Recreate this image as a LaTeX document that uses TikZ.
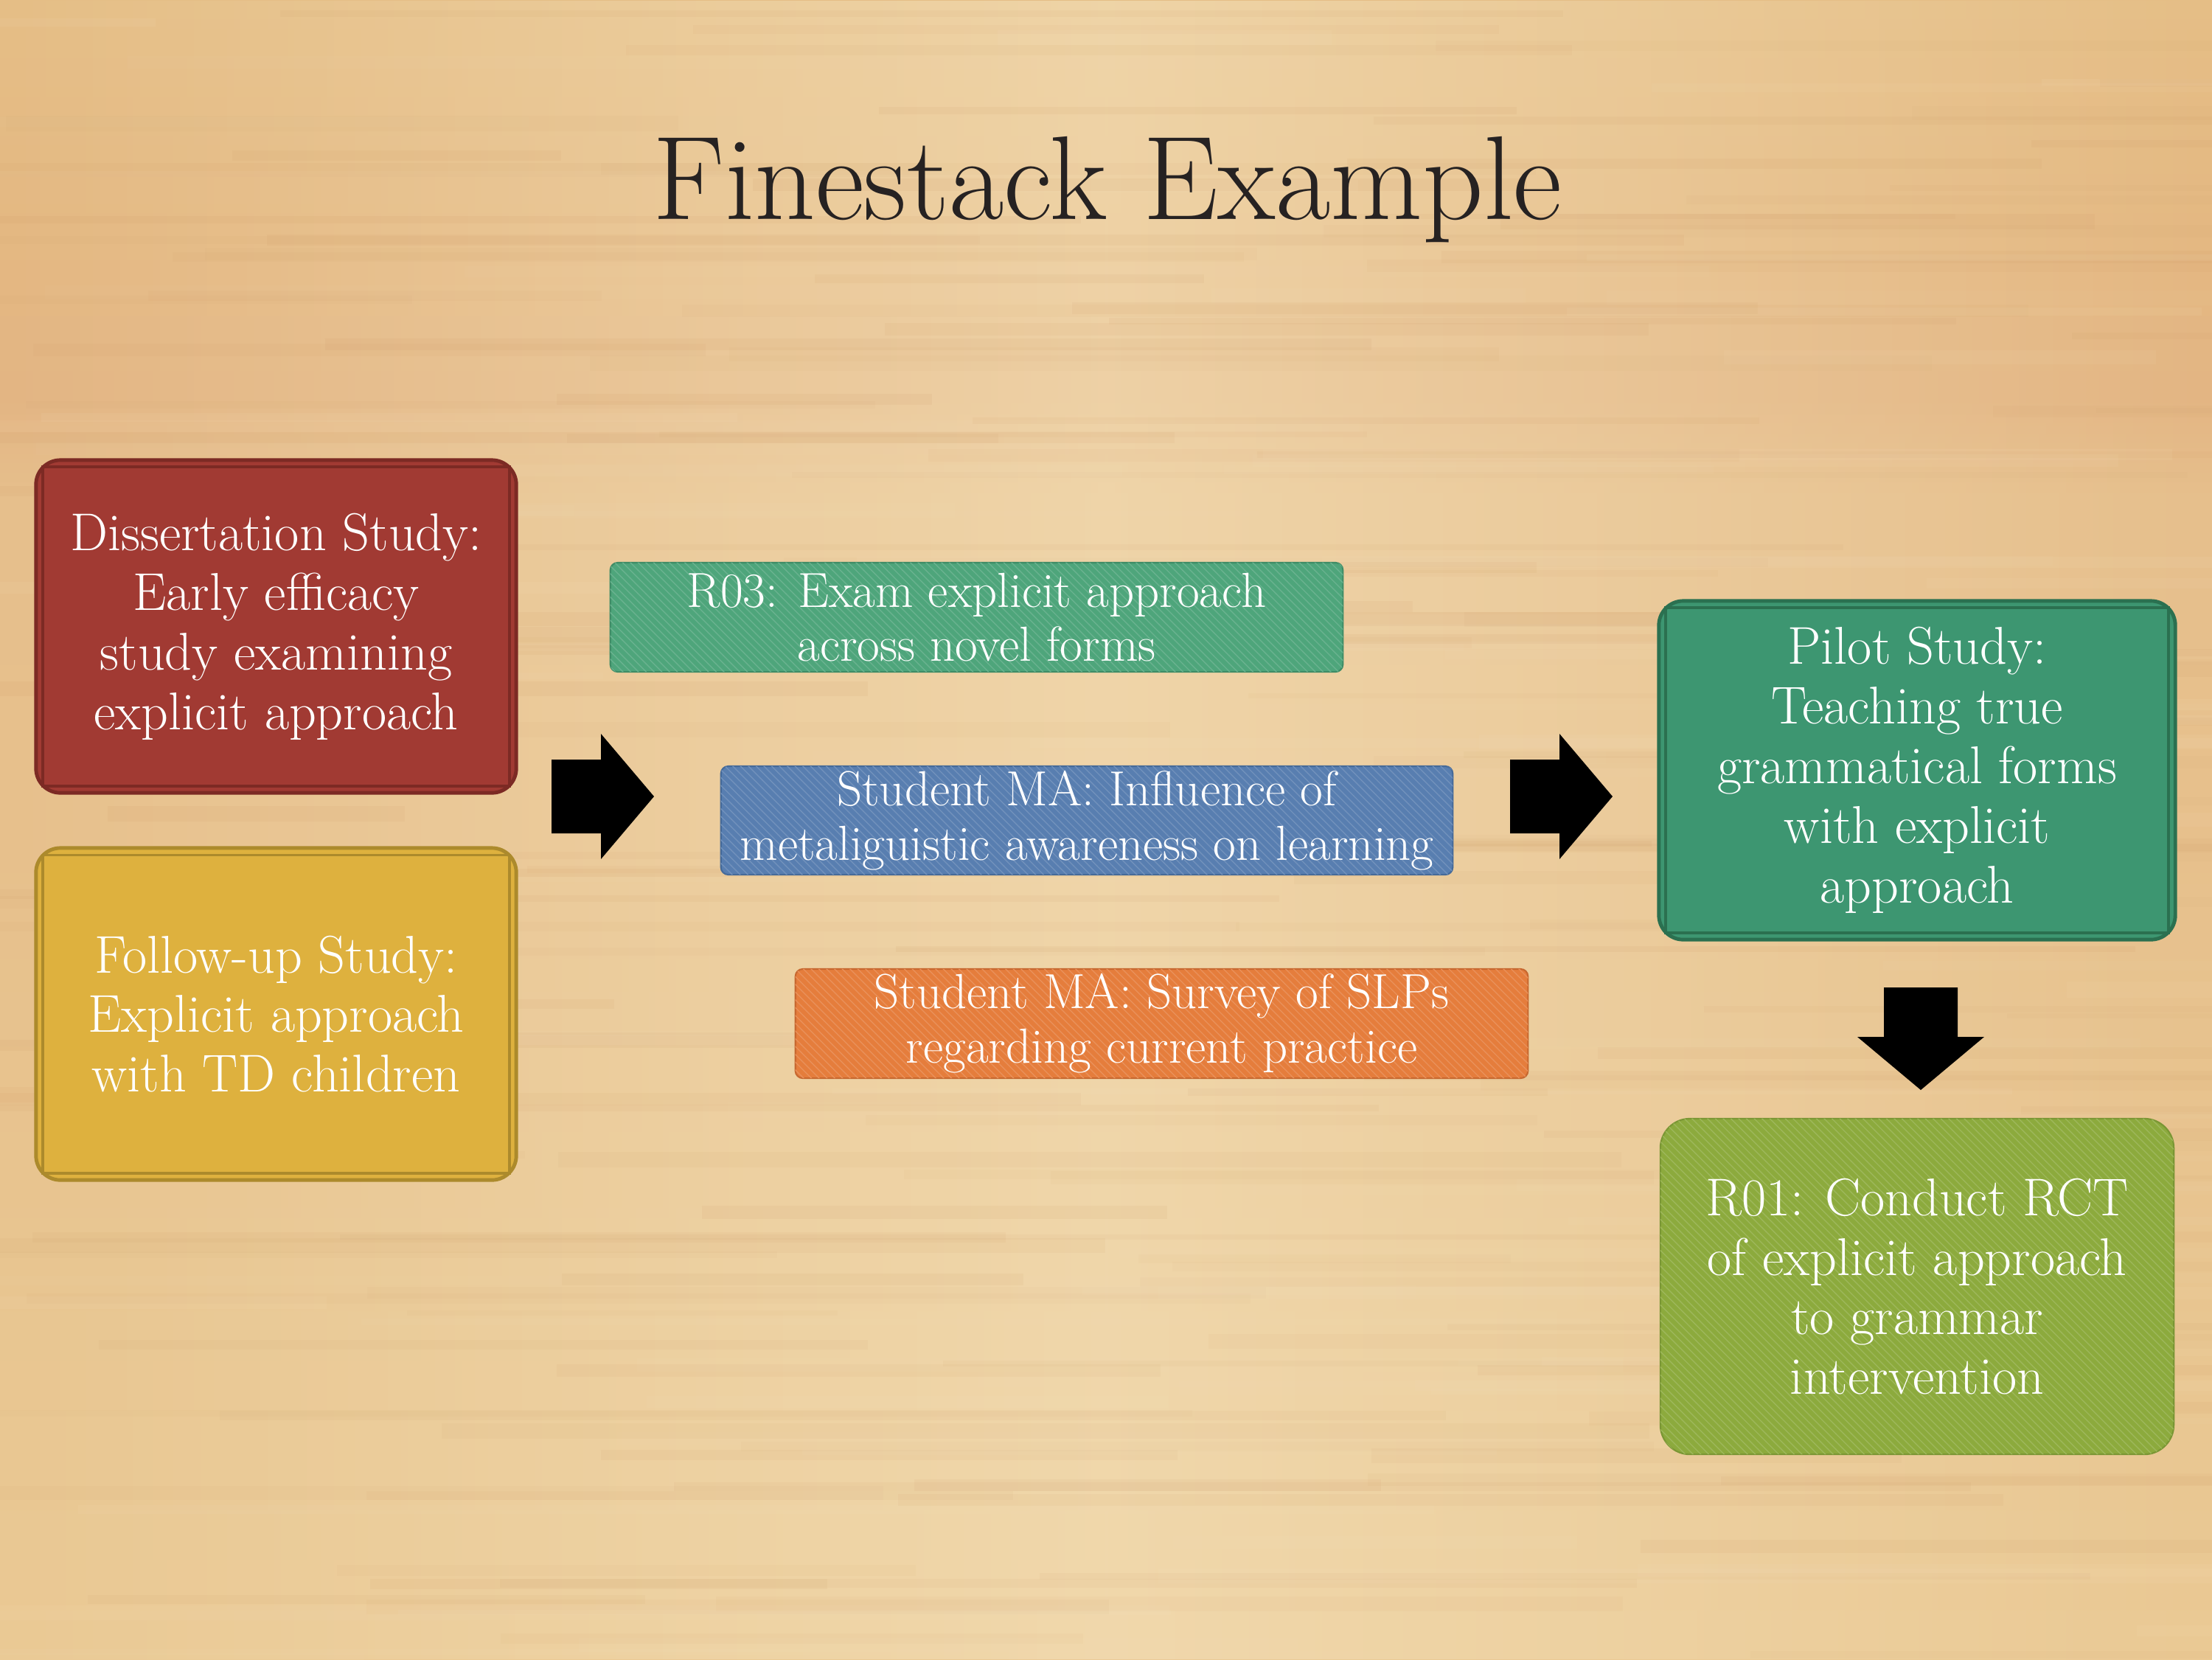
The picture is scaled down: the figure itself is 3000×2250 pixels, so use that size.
\documentclass[tikz,border=0pt]{standalone}
\usepackage{fontspec}
\usetikzlibrary{patterns,fadings}
\definecolor{bgT}{HTML}{E5BE86}
\definecolor{bgB}{HTML}{E4B882}
\definecolor{bgC}{HTML}{E3B583}
\definecolor{bgD}{HTML}{E6BF8C}
\definecolor{bgE}{HTML}{E7C08C}
\definecolor{bgF}{HTML}{E8C590}
\definecolor{bgG}{HTML}{EAC994}
\definecolor{bgGlow}{HTML}{F4E0B8}
\definecolor{grainDark}{HTML}{C48A55}
\definecolor{grainLight}{HTML}{F6E2C0}
\definecolor{titleC}{HTML}{262222}
\definecolor{redF}{HTML}{A13A33}
\definecolor{redD}{HTML}{7C2A24}
\definecolor{yelF}{HTML}{DEB13E}
\definecolor{yelD}{HTML}{AC8A2C}
\definecolor{pilF}{HTML}{3D9671}
\definecolor{pilD}{HTML}{2B7050}
\definecolor{r03F}{HTML}{4EA57B}
\definecolor{r03D}{HTML}{3F8C66}
\definecolor{bluF}{HTML}{587EB0}
\definecolor{bluD}{HTML}{456A99}
\definecolor{orgF}{HTML}{E57D3C}
\definecolor{orgD}{HTML}{C76830}
\definecolor{r01F}{HTML}{8CAA3D}
\definecolor{r01D}{HTML}{7A9634}
\pgfdeclareverticalshading{woodbg}{100bp}{color(0bp)=(bgG); color(25bp)=(bgG); color(37bp)=(bgF); color(50bp)=(bgE); color(60bp)=(bgD); color(63bp)=(bgC); color(68bp)=(bgB); color(75bp)=(bgT); color(100bp)=(bgT)}
\tikzfading[name=midglow, left color=transparent!100, right color=transparent!100, middle color=transparent!35]
\tikzset{
  boxtext/.style={text=white, align=center, font=\fontsize{20.5}{23}\selectfont},
  framebox/.style={rounded corners=0.33cm, line width=1.4pt, inner sep=0pt, boxtext},
  innerframe/.style={line width=1.1pt},
  barbox/.style={rounded corners=0.1cm, line width=0.6pt, inner sep=0pt, text=white, align=center, font=\fontsize{19}{21}\selectfont},
  hatch/.style={postaction={pattern=north west lines, pattern color=#1}},
  blockarrow/.style={fill=black},
}
\begin{document}
\begin{tikzpicture}[x=0.01cm, y=-0.01cm]
\useasboundingbox (0,0) rectangle (3000,2250);
\shade[shading=woodbg] (0,0) rectangle (3000,2250);
\fill[bgGlow, path fading=midglow, fit fading=true] (0,0) rectangle (3000,2250);
\pgfmathsetseed{42}
\foreach \k in {1,...,160}{
  \pgfmathsetmacro\yy{rnd*2250}
  \pgfmathsetmacro\xx{rnd*3200-300}
  \pgfmathsetmacro\ll{400+rnd*1600}
  \pgfmathsetmacro\oo{0.03+0.05*rnd}
  \pgfmathsetmacro\ww{2+4*rnd}
  \draw[line width=\ww pt, draw=grainDark, opacity=\oo] (\xx,\yy) -- ++(\ll,0);
}
\foreach \k in {1,...,90}{
  \pgfmathsetmacro\yy{rnd*2250}
  \pgfmathsetmacro\xx{rnd*3200-300}
  \pgfmathsetmacro\ll{400+rnd*1600}
  \pgfmathsetmacro\oo{0.04+0.06*rnd}
  \pgfmathsetmacro\ww{2+4*rnd}
  \draw[line width=\ww pt, draw=grainLight, opacity=\oo] (\xx,\yy) -- ++(\ll,0);
}

% title
\node[font=\fontsize{46}{50}\selectfont, text=titleC, anchor=base] (title) at (1502,297) {Finestack Example};

% left column
\node[framebox, fill=redF, draw=redD, minimum width=6.51cm, minimum height=4.51cm] (diss) at (374.5,849.5)
  {Dissertation Study:\\Early efficacy\\study examining\\explicit approach};
\draw[innerframe, redD] ([shift={(12,12)}]diss.north west) rectangle ([shift={(-12,-12)}]diss.south east);

\node[framebox, fill=yelF, draw=yelD, minimum width=6.51cm, minimum height=4.50cm] (follow) at (374.5,1375)
  {Follow-up Study:\\Explicit approach\\with TD children};
\draw[innerframe, yelD] ([shift={(12,12)}]follow.north west) rectangle ([shift={(-12,-12)}]follow.south east);

% middle bars
\node[barbox, fill=r03F, draw=r03D, hatch=r03F!85!white, minimum width=9.93cm, minimum height=1.48cm] (r03) at (1324.5,837)
  {R03: Exam explicit approach\\across novel forms};
\node[barbox, fill=bluF, draw=bluD, hatch=bluF!85!white, minimum width=9.92cm, minimum height=1.47cm] (ma1) at (1474,1112.5)
  {Student MA: Influence of\\metaliguistic awareness on learning};
\node[barbox, fill=orgF, draw=orgD, hatch=orgF!85!white, minimum width=9.93cm, minimum height=1.48cm] (ma2) at (1575.5,1388)
  {Student MA: Survey of SLPs\\regarding current practice};

% right column
\node[framebox, fill=pilF, draw=pilD, minimum width=7.00cm, minimum height=4.59cm] (pilot) at (2600,1044.5)
  {Pilot Study:\\Teaching true\\grammatical forms\\with explicit\\approach};
\draw[innerframe, pilD] ([shift={(12,12)}]pilot.north west) rectangle ([shift={(-12,-12)}]pilot.south east);

\node[framebox, rounded corners=0.4cm, fill=r01F, draw=r01D, line width=0.6pt, hatch=r01F!85!white, minimum width=6.96cm, minimum height=4.55cm] (r01) at (2600,1744.5)
  {R01: Conduct RCT\\of explicit approach\\to grammar\\intervention};

% block arrows
\coordinate (a1) at (748,1080);
\coordinate (a2) at (2048,1080);
\coordinate (a3) at (2605,1339);
\fill[blockarrow] (a1) ++(0,-50) -- ++(67,0) -- ++(0,-35) -- ++(72,85) -- ++(-72,85) -- ++(0,-35) -- ++(-67,0) -- cycle;
\fill[blockarrow] (a2) ++(0,-50) -- ++(67,0) -- ++(0,-35) -- ++(72,85) -- ++(-72,85) -- ++(0,-35) -- ++(-67,0) -- cycle;
\fill[blockarrow] (a3) ++(-50,0) -- ++(100,0) -- ++(0,67) -- ++(36,0) -- ++(-86,72) -- ++(-86,-72) -- ++(36,0) -- cycle;
\end{tikzpicture}
\end{document}
